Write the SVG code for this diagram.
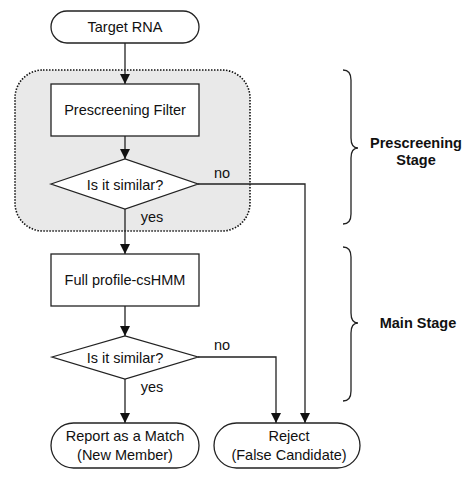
<svg xmlns="http://www.w3.org/2000/svg" width="474" height="482" viewBox="0 0 474 482">
<style>
.box{fill:#fff;stroke:#222;stroke-width:1.3}
.t{font-family:"Liberation Sans",Arial,sans-serif;font-size:14.5px;fill:#111;text-anchor:middle}
.b{font-weight:bold}
.c{fill:none;stroke:#222;stroke-width:1.3}
</style>
<defs>
<marker id="ah" markerWidth="10" markerHeight="10" refX="10" refY="5" orient="auto" markerUnits="userSpaceOnUse">
<path d="M0,0 L10,5 L0,10 Z" fill="#111"/>
</marker>
</defs>
<rect width="474" height="482" fill="#fff"/>
<g id="prescreen-region">
<rect x="15" y="70" width="235" height="161" rx="28" fill="#e9e9e9" stroke="#111" stroke-width="1.6" stroke-dasharray="1.5 1.5"/>
</g>
<g id="connectors">
<path class="c" d="M125,43 V84" marker-end="url(#ah)"/>
<path class="c" d="M125,136 V159" marker-end="url(#ah)"/>
<path class="c" d="M125,209 V254" marker-end="url(#ah)"/>
<path class="c" d="M125,306 V336" marker-end="url(#ah)"/>
<path class="c" d="M125,379 V423" marker-end="url(#ah)"/>
<path class="c" d="M198,184 H305 V423" marker-end="url(#ah)"/>
<path class="c" d="M198,357 H276 V423" marker-end="url(#ah)"/>
<text class="t" x="222" y="178">no</text>
<text class="t" x="152" y="222">yes</text>
<text class="t" x="222" y="350">no</text>
<text class="t" x="152" y="392">yes</text>
</g>
<g id="target">
<rect class="box" x="51" y="11" width="148" height="32" rx="16"/>
<text class="t" x="125" y="32">Target RNA</text>
</g>
<g id="filter">
<rect class="box" x="51" y="84" width="148" height="52"/>
<text class="t" x="125" y="115">Prescreening Filter</text>
</g>
<g id="decision1">
<path class="box" d="M51,184 L125,159 L198,184 L125,209 Z"/>
<text class="t" x="125" y="190">Is it similar?</text>
</g>
<g id="cshmm">
<rect class="box" x="51" y="254" width="148" height="52"/>
<text class="t" x="125" y="285">Full profile-csHMM</text>
</g>
<g id="decision2">
<path class="box" d="M52,357 L125,336 L198,357 L125,379 Z"/>
<text class="t" x="125" y="363">Is it similar?</text>
</g>
<g id="report">
<rect class="box" x="51" y="423" width="148" height="45" rx="22.5"/>
<text class="t" x="125" y="441">Report as a Match</text>
<text class="t" x="125" y="460">(New Member)</text>
</g>
<g id="reject">
<rect class="box" x="214" y="423" width="146" height="45" rx="22.5"/>
<text class="t" x="289" y="441">Reject</text>
<text class="t" x="289" y="460">(False Candidate)</text>
</g>
<g id="brace1">
<path class="c" d="M343,70 Q351,70 351,80 V138 Q351,148 358,148 Q351,148 351,158 V214 Q351,224 343,224"/>
<text class="t b" x="416" y="148">Prescreening</text>
<text class="t b" x="416" y="165">Stage</text>
</g>
<g id="brace2">
<path class="c" d="M343,247 Q351,247 351,257 V313 Q351,323 358,323 Q351,323 351,333 V391 Q351,401 343,401"/>
<text class="t b" x="418" y="328">Main Stage</text>
</g>
</svg>
